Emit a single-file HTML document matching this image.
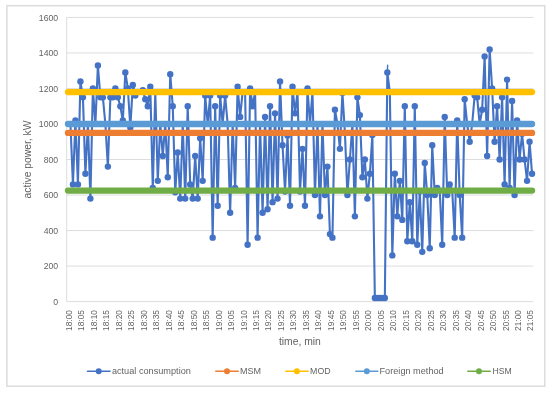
<!DOCTYPE html>
<html><head><meta charset="utf-8"><title>chart</title>
<style>
html,body{margin:0;padding:0;background:#fff;}
svg{display:block;font-family:"Liberation Sans",sans-serif;}
.t{font-size:8.8px;fill:#636363;}
.tt{font-size:10.3px;fill:#636363;}
</style></head><body>
<svg width="550" height="393" viewBox="0 0 550 393">
<rect x="0" y="0" width="550" height="393" fill="#ffffff"/>
<rect x="6.9" y="5.7" width="537.9" height="380.5" fill="#ffffff" stroke="#dedede" stroke-width="1.6"/>
<g stroke="#d9d9d9" stroke-width="0.9"><line x1="66.7" y1="266.08" x2="533.3" y2="266.08"/><line x1="66.7" y1="230.56" x2="533.3" y2="230.56"/><line x1="66.7" y1="195.04" x2="533.3" y2="195.04"/><line x1="66.7" y1="159.52" x2="533.3" y2="159.52"/><line x1="66.7" y1="124.00" x2="533.3" y2="124.00"/><line x1="66.7" y1="88.48" x2="533.3" y2="88.48"/><line x1="66.7" y1="52.96" x2="533.3" y2="52.96"/><line x1="66.7" y1="17.44" x2="533.3" y2="17.44"/>
<line x1="66.7" y1="17.44" x2="66.7" y2="301.6"/>
<line x1="66.7" y1="301.6" x2="533.3" y2="301.6"/>
</g>
<g class="t" style="font-size:8.7px"><text x="58.2" y="304.70" text-anchor="end">0</text><text x="58.2" y="269.18" text-anchor="end">200</text><text x="58.2" y="233.66" text-anchor="end">400</text><text x="58.2" y="198.14" text-anchor="end">600</text><text x="58.2" y="162.62" text-anchor="end">800</text><text x="58.2" y="127.10" text-anchor="end">1000</text><text x="58.2" y="91.58" text-anchor="end">1200</text><text x="58.2" y="56.06" text-anchor="end">1400</text><text x="58.2" y="20.54" text-anchor="end">1600</text></g>
<g class="t" style="font-size:8.6px"><text transform="translate(71.85,331.0) rotate(-90)" textLength="21" lengthAdjust="spacingAndGlyphs">18:00</text><text transform="translate(84.32,331.0) rotate(-90)" textLength="21" lengthAdjust="spacingAndGlyphs">18:05</text><text transform="translate(96.80,331.0) rotate(-90)" textLength="21" lengthAdjust="spacingAndGlyphs">18:10</text><text transform="translate(109.28,331.0) rotate(-90)" textLength="21" lengthAdjust="spacingAndGlyphs">18:15</text><text transform="translate(121.75,331.0) rotate(-90)" textLength="21" lengthAdjust="spacingAndGlyphs">18:20</text><text transform="translate(134.23,331.0) rotate(-90)" textLength="21" lengthAdjust="spacingAndGlyphs">18:25</text><text transform="translate(146.70,331.0) rotate(-90)" textLength="21" lengthAdjust="spacingAndGlyphs">18:30</text><text transform="translate(159.18,331.0) rotate(-90)" textLength="21" lengthAdjust="spacingAndGlyphs">18:35</text><text transform="translate(171.66,331.0) rotate(-90)" textLength="21" lengthAdjust="spacingAndGlyphs">18:40</text><text transform="translate(184.13,331.0) rotate(-90)" textLength="21" lengthAdjust="spacingAndGlyphs">18:45</text><text transform="translate(196.61,331.0) rotate(-90)" textLength="21" lengthAdjust="spacingAndGlyphs">18:50</text><text transform="translate(209.08,331.0) rotate(-90)" textLength="21" lengthAdjust="spacingAndGlyphs">18:55</text><text transform="translate(221.56,331.0) rotate(-90)" textLength="21" lengthAdjust="spacingAndGlyphs">19:00</text><text transform="translate(234.03,331.0) rotate(-90)" textLength="21" lengthAdjust="spacingAndGlyphs">19:05</text><text transform="translate(246.51,331.0) rotate(-90)" textLength="21" lengthAdjust="spacingAndGlyphs">19:10</text><text transform="translate(258.99,331.0) rotate(-90)" textLength="21" lengthAdjust="spacingAndGlyphs">19:15</text><text transform="translate(271.46,331.0) rotate(-90)" textLength="21" lengthAdjust="spacingAndGlyphs">19:20</text><text transform="translate(283.94,331.0) rotate(-90)" textLength="21" lengthAdjust="spacingAndGlyphs">19:25</text><text transform="translate(296.41,331.0) rotate(-90)" textLength="21" lengthAdjust="spacingAndGlyphs">19:30</text><text transform="translate(308.89,331.0) rotate(-90)" textLength="21" lengthAdjust="spacingAndGlyphs">19:35</text><text transform="translate(321.37,331.0) rotate(-90)" textLength="21" lengthAdjust="spacingAndGlyphs">19:40</text><text transform="translate(333.84,331.0) rotate(-90)" textLength="21" lengthAdjust="spacingAndGlyphs">19:45</text><text transform="translate(346.32,331.0) rotate(-90)" textLength="21" lengthAdjust="spacingAndGlyphs">19:50</text><text transform="translate(358.79,331.0) rotate(-90)" textLength="21" lengthAdjust="spacingAndGlyphs">19:55</text><text transform="translate(371.27,331.0) rotate(-90)" textLength="21" lengthAdjust="spacingAndGlyphs">20:00</text><text transform="translate(383.75,331.0) rotate(-90)" textLength="21" lengthAdjust="spacingAndGlyphs">20:05</text><text transform="translate(396.22,331.0) rotate(-90)" textLength="21" lengthAdjust="spacingAndGlyphs">20:10</text><text transform="translate(408.70,331.0) rotate(-90)" textLength="21" lengthAdjust="spacingAndGlyphs">20:15</text><text transform="translate(421.17,331.0) rotate(-90)" textLength="21" lengthAdjust="spacingAndGlyphs">20:20</text><text transform="translate(433.65,331.0) rotate(-90)" textLength="21" lengthAdjust="spacingAndGlyphs">20:25</text><text transform="translate(446.13,331.0) rotate(-90)" textLength="21" lengthAdjust="spacingAndGlyphs">20:30</text><text transform="translate(458.60,331.0) rotate(-90)" textLength="21" lengthAdjust="spacingAndGlyphs">20:35</text><text transform="translate(471.08,331.0) rotate(-90)" textLength="21" lengthAdjust="spacingAndGlyphs">20:40</text><text transform="translate(483.55,331.0) rotate(-90)" textLength="21" lengthAdjust="spacingAndGlyphs">20:45</text><text transform="translate(496.03,331.0) rotate(-90)" textLength="21" lengthAdjust="spacingAndGlyphs">20:50</text><text transform="translate(508.51,331.0) rotate(-90)" textLength="21" lengthAdjust="spacingAndGlyphs">20:55</text><text transform="translate(520.98,331.0) rotate(-90)" textLength="21" lengthAdjust="spacingAndGlyphs">21:00</text><text transform="translate(533.46,331.0) rotate(-90)" textLength="21" lengthAdjust="spacingAndGlyphs">21:05</text></g>
<text class="tt" transform="translate(31.3,159.5) rotate(-90)" text-anchor="middle" textLength="78" lengthAdjust="spacingAndGlyphs">active power, kW</text>
<text class="tt" x="299.9" y="344.6" text-anchor="middle" textLength="42" lengthAdjust="spacingAndGlyphs">time, min</text>
<polyline points="67.95,124.00 70.44,124.00 72.94,184.38 75.43,120.45 77.93,184.38 80.42,81.38 82.92,97.36 85.41,173.73 87.91,124.00 90.40,198.59 92.90,88.48 95.39,124.00 97.89,65.39 100.39,97.36 102.88,97.36 105.38,124.00 107.87,166.62 110.37,97.36 112.86,97.36 115.36,88.48 117.85,97.36 120.35,106.24 122.84,120.45 125.34,72.50 127.83,88.48 130.33,127.55 132.82,84.93 135.32,95.58 137.81,92.03 140.31,92.03 142.80,90.26 145.30,99.14 147.79,106.24 150.29,86.70 152.78,187.94 155.28,92.03 157.77,180.83 160.27,124.00 162.76,155.97 165.26,124.00 167.76,177.28 170.25,74.27 172.75,106.24 175.24,192.20 177.74,152.42 180.23,198.59 182.73,124.00 185.22,198.59 187.72,106.24 190.21,184.38 192.71,198.59 195.20,155.97 197.70,198.59 200.19,138.21 202.69,180.83 205.18,95.58 207.68,124.00 210.17,95.58 212.67,237.66 215.16,106.24 217.66,205.70 220.15,95.58 222.65,124.00 225.14,95.58 227.64,124.00 230.13,212.80 232.63,124.00 235.13,187.94 237.62,86.70 240.12,116.90 242.61,92.03 245.11,92.03 247.60,244.77 250.10,88.48 252.59,106.24 255.09,92.03 257.58,237.66 260.08,124.00 262.57,212.80 265.07,116.90 267.56,209.25 270.06,106.24 272.55,202.14 275.05,113.34 277.54,198.59 280.04,81.38 282.53,145.31 285.03,191.49 287.52,135.54 290.02,205.70 292.51,86.70 295.01,113.34 297.50,92.03 300.00,191.49 302.50,148.86 304.99,205.70 307.49,88.48 309.98,124.00 312.48,92.03 314.97,195.04 317.47,124.00 319.96,216.35 322.46,124.00 324.95,195.04 327.45,166.62 329.94,234.11 332.44,237.66 334.93,109.79 337.43,124.00 339.92,148.86 342.42,92.92 344.91,132.88 347.41,195.04 349.90,159.52 352.40,124.00 354.89,216.35 357.39,97.36 359.88,115.12 362.38,177.28 364.87,159.52 367.37,198.59 369.87,173.73 372.36,135.01 374.86,298.05 377.35,298.05 379.85,298.05 382.34,298.05 384.84,298.05 387.33,72.50 389.83,92.03 392.32,255.42 394.82,173.73 397.31,216.35 399.81,180.83 402.30,219.90 404.80,106.24 407.29,241.22 409.79,202.14 412.28,241.22 414.78,106.24 417.27,244.77 419.77,191.49 422.26,251.87 424.76,163.07 427.25,195.04 429.75,248.32 432.24,145.31 434.74,195.04 437.24,187.94 439.73,190.60 442.23,244.77 444.72,116.90 447.22,195.04 449.71,184.38 452.21,190.60 454.70,237.66 457.20,120.45 459.69,195.04 462.19,237.66 464.68,99.14 467.18,124.00 469.67,141.76 472.17,124.00 474.66,95.58 477.16,97.36 479.65,124.00 482.15,109.79 484.64,56.51 487.14,155.97 489.63,49.41 492.13,88.48 494.62,141.76 497.12,106.24 499.61,159.52 502.11,97.36 504.61,184.38 507.10,79.60 509.60,187.94 512.09,100.91 514.59,195.04 517.08,120.45 519.58,159.52 522.07,133.77 524.57,159.52 527.06,180.83 529.56,141.76 532.05,173.73" fill="none" stroke="#4472c4" stroke-width="2.1" stroke-linejoin="round" stroke-linecap="round"/>
<line x1="387.33" y1="72.50" x2="387.63" y2="65.20" stroke="#4472c4" stroke-width="1.4" stroke-linecap="round"/>
<g fill="#4472c4"><circle cx="72.94" cy="184.38" r="3.2"/><circle cx="75.43" cy="120.45" r="3.2"/><circle cx="77.93" cy="184.38" r="3.2"/><circle cx="80.42" cy="81.38" r="3.2"/><circle cx="82.92" cy="97.36" r="3.2"/><circle cx="85.41" cy="173.73" r="3.2"/><circle cx="90.40" cy="198.59" r="3.2"/><circle cx="92.90" cy="88.48" r="3.2"/><circle cx="97.89" cy="65.39" r="3.2"/><circle cx="100.39" cy="97.36" r="3.2"/><circle cx="102.88" cy="97.36" r="3.2"/><circle cx="107.87" cy="166.62" r="3.2"/><circle cx="110.37" cy="97.36" r="3.2"/><circle cx="112.86" cy="97.36" r="3.2"/><circle cx="115.36" cy="88.48" r="3.2"/><circle cx="117.85" cy="97.36" r="3.2"/><circle cx="120.35" cy="106.24" r="3.2"/><circle cx="122.84" cy="120.45" r="3.2"/><circle cx="125.34" cy="72.50" r="3.2"/><circle cx="127.83" cy="88.48" r="3.2"/><circle cx="130.33" cy="127.55" r="3.2"/><circle cx="132.82" cy="84.93" r="3.2"/><circle cx="135.32" cy="95.58" r="3.2"/><circle cx="142.80" cy="90.26" r="3.2"/><circle cx="145.30" cy="99.14" r="3.2"/><circle cx="147.79" cy="106.24" r="3.2"/><circle cx="150.29" cy="86.70" r="3.2"/><circle cx="152.78" cy="187.94" r="3.2"/><circle cx="157.77" cy="180.83" r="3.2"/><circle cx="162.76" cy="155.97" r="3.2"/><circle cx="167.76" cy="177.28" r="3.2"/><circle cx="170.25" cy="74.27" r="3.2"/><circle cx="172.75" cy="106.24" r="3.2"/><circle cx="175.24" cy="192.20" r="3.2"/><circle cx="177.74" cy="152.42" r="3.2"/><circle cx="180.23" cy="198.59" r="3.2"/><circle cx="185.22" cy="198.59" r="3.2"/><circle cx="187.72" cy="106.24" r="3.2"/><circle cx="190.21" cy="184.38" r="3.2"/><circle cx="192.71" cy="198.59" r="3.2"/><circle cx="195.20" cy="155.97" r="3.2"/><circle cx="197.70" cy="198.59" r="3.2"/><circle cx="200.19" cy="138.21" r="3.2"/><circle cx="202.69" cy="180.83" r="3.2"/><circle cx="205.18" cy="95.58" r="3.2"/><circle cx="210.17" cy="95.58" r="3.2"/><circle cx="212.67" cy="237.66" r="3.2"/><circle cx="215.16" cy="106.24" r="3.2"/><circle cx="217.66" cy="205.70" r="3.2"/><circle cx="220.15" cy="95.58" r="3.2"/><circle cx="225.14" cy="95.58" r="3.2"/><circle cx="230.13" cy="212.80" r="3.2"/><circle cx="235.13" cy="187.94" r="3.2"/><circle cx="237.62" cy="86.70" r="3.2"/><circle cx="240.12" cy="116.90" r="3.2"/><circle cx="247.60" cy="244.77" r="3.2"/><circle cx="250.10" cy="88.48" r="3.2"/><circle cx="252.59" cy="106.24" r="3.2"/><circle cx="257.58" cy="237.66" r="3.2"/><circle cx="262.57" cy="212.80" r="3.2"/><circle cx="265.07" cy="116.90" r="3.2"/><circle cx="267.56" cy="209.25" r="3.2"/><circle cx="270.06" cy="106.24" r="3.2"/><circle cx="272.55" cy="202.14" r="3.2"/><circle cx="275.05" cy="113.34" r="3.2"/><circle cx="277.54" cy="198.59" r="3.2"/><circle cx="280.04" cy="81.38" r="3.2"/><circle cx="282.53" cy="145.31" r="3.2"/><circle cx="285.03" cy="191.49" r="3.2"/><circle cx="287.52" cy="135.54" r="3.2"/><circle cx="290.02" cy="205.70" r="3.2"/><circle cx="292.51" cy="86.70" r="3.2"/><circle cx="295.01" cy="113.34" r="3.2"/><circle cx="300.00" cy="191.49" r="3.2"/><circle cx="302.50" cy="148.86" r="3.2"/><circle cx="304.99" cy="205.70" r="3.2"/><circle cx="307.49" cy="88.48" r="3.2"/><circle cx="314.97" cy="195.04" r="3.2"/><circle cx="319.96" cy="216.35" r="3.2"/><circle cx="324.95" cy="195.04" r="3.2"/><circle cx="327.45" cy="166.62" r="3.2"/><circle cx="329.94" cy="234.11" r="3.2"/><circle cx="332.44" cy="237.66" r="3.2"/><circle cx="334.93" cy="109.79" r="3.2"/><circle cx="339.92" cy="148.86" r="3.2"/><circle cx="342.42" cy="92.92" r="3.2"/><circle cx="347.41" cy="195.04" r="3.2"/><circle cx="349.90" cy="159.52" r="3.2"/><circle cx="354.89" cy="216.35" r="3.2"/><circle cx="357.39" cy="97.36" r="3.2"/><circle cx="359.88" cy="115.12" r="3.2"/><circle cx="362.38" cy="177.28" r="3.2"/><circle cx="364.87" cy="159.52" r="3.2"/><circle cx="367.37" cy="198.59" r="3.2"/><circle cx="369.87" cy="173.73" r="3.2"/><circle cx="372.36" cy="135.01" r="3.2"/><circle cx="374.86" cy="298.05" r="3.2"/><circle cx="377.35" cy="298.05" r="3.2"/><circle cx="379.85" cy="298.05" r="3.2"/><circle cx="382.34" cy="298.05" r="3.2"/><circle cx="384.84" cy="298.05" r="3.2"/><circle cx="387.33" cy="72.50" r="3.2"/><circle cx="392.32" cy="255.42" r="3.2"/><circle cx="394.82" cy="173.73" r="3.2"/><circle cx="397.31" cy="216.35" r="3.2"/><circle cx="399.81" cy="180.83" r="3.2"/><circle cx="402.30" cy="219.90" r="3.2"/><circle cx="404.80" cy="106.24" r="3.2"/><circle cx="407.29" cy="241.22" r="3.2"/><circle cx="409.79" cy="202.14" r="3.2"/><circle cx="412.28" cy="241.22" r="3.2"/><circle cx="414.78" cy="106.24" r="3.2"/><circle cx="417.27" cy="244.77" r="3.2"/><circle cx="419.77" cy="191.49" r="3.2"/><circle cx="422.26" cy="251.87" r="3.2"/><circle cx="424.76" cy="163.07" r="3.2"/><circle cx="427.25" cy="195.04" r="3.2"/><circle cx="429.75" cy="248.32" r="3.2"/><circle cx="432.24" cy="145.31" r="3.2"/><circle cx="434.74" cy="195.04" r="3.2"/><circle cx="437.24" cy="187.94" r="3.2"/><circle cx="442.23" cy="244.77" r="3.2"/><circle cx="444.72" cy="116.90" r="3.2"/><circle cx="447.22" cy="195.04" r="3.2"/><circle cx="449.71" cy="184.38" r="3.2"/><circle cx="454.70" cy="237.66" r="3.2"/><circle cx="457.20" cy="120.45" r="3.2"/><circle cx="459.69" cy="195.04" r="3.2"/><circle cx="462.19" cy="237.66" r="3.2"/><circle cx="464.68" cy="99.14" r="3.2"/><circle cx="469.67" cy="141.76" r="3.2"/><circle cx="474.66" cy="95.58" r="3.2"/><circle cx="477.16" cy="97.36" r="3.2"/><circle cx="482.15" cy="109.79" r="3.2"/><circle cx="484.64" cy="56.51" r="3.2"/><circle cx="487.14" cy="155.97" r="3.2"/><circle cx="489.63" cy="49.41" r="3.2"/><circle cx="492.13" cy="88.48" r="3.2"/><circle cx="494.62" cy="141.76" r="3.2"/><circle cx="497.12" cy="106.24" r="3.2"/><circle cx="499.61" cy="159.52" r="3.2"/><circle cx="502.11" cy="97.36" r="3.2"/><circle cx="504.61" cy="184.38" r="3.2"/><circle cx="507.10" cy="79.60" r="3.2"/><circle cx="509.60" cy="187.94" r="3.2"/><circle cx="512.09" cy="100.91" r="3.2"/><circle cx="514.59" cy="195.04" r="3.2"/><circle cx="517.08" cy="120.45" r="3.2"/><circle cx="519.58" cy="159.52" r="3.2"/><circle cx="522.07" cy="133.77" r="3.2"/><circle cx="524.57" cy="159.52" r="3.2"/><circle cx="527.06" cy="180.83" r="3.2"/><circle cx="529.56" cy="141.76" r="3.2"/><circle cx="532.05" cy="173.73" r="3.2"/></g>
<line x1="67.95" y1="132.88" x2="532.05" y2="132.88" stroke="#ed7d31" stroke-width="6.3" stroke-linecap="round"/>
<line x1="67.95" y1="92.03" x2="532.05" y2="92.03" stroke="#ffc000" stroke-width="6.3" stroke-linecap="round"/>
<line x1="67.95" y1="124.00" x2="532.05" y2="124.00" stroke="#5b9bd5" stroke-width="6.3" stroke-linecap="round"/>
<line x1="67.95" y1="190.60" x2="532.05" y2="190.60" stroke="#70ad47" stroke-width="6.3" stroke-linecap="round"/>
<g class="t">
<line x1="87.5" y1="371.3" x2="110" y2="371.3" stroke="#4472c4" stroke-width="1.6" stroke-linecap="round"/><circle cx="98.7" cy="371.3" r="3.0" fill="#4472c4"/><text x="111.9" y="374.3" textLength="79" lengthAdjust="spacingAndGlyphs">actual consumption</text>
<line x1="215.8" y1="371.3" x2="238.2" y2="371.3" stroke="#ed7d31" stroke-width="1.6" stroke-linecap="round"/><circle cx="227" cy="371.3" r="3.0" fill="#ed7d31"/><text x="240.1" y="374.3" textLength="21" lengthAdjust="spacingAndGlyphs">MSM</text>
<line x1="286" y1="371.3" x2="308.1" y2="371.3" stroke="#ffc000" stroke-width="1.6" stroke-linecap="round"/><circle cx="296.9" cy="371.3" r="3.0" fill="#ffc000"/><text x="310.1" y="374.3" textLength="20.5" lengthAdjust="spacingAndGlyphs">MOD</text>
<line x1="355.8" y1="371.3" x2="377.8" y2="371.3" stroke="#5b9bd5" stroke-width="1.6" stroke-linecap="round"/><circle cx="366.8" cy="371.3" r="3.0" fill="#5b9bd5"/><text x="379.5" y="374.3" textLength="64.2" lengthAdjust="spacingAndGlyphs">Foreign method</text>
<line x1="467.8" y1="371.3" x2="490.2" y2="371.3" stroke="#70ad47" stroke-width="1.6" stroke-linecap="round"/><circle cx="479" cy="371.3" r="3.0" fill="#70ad47"/><text x="492.5" y="374.3" textLength="19.3" lengthAdjust="spacingAndGlyphs">HSM</text>
</g>
</svg>
</body></html>
